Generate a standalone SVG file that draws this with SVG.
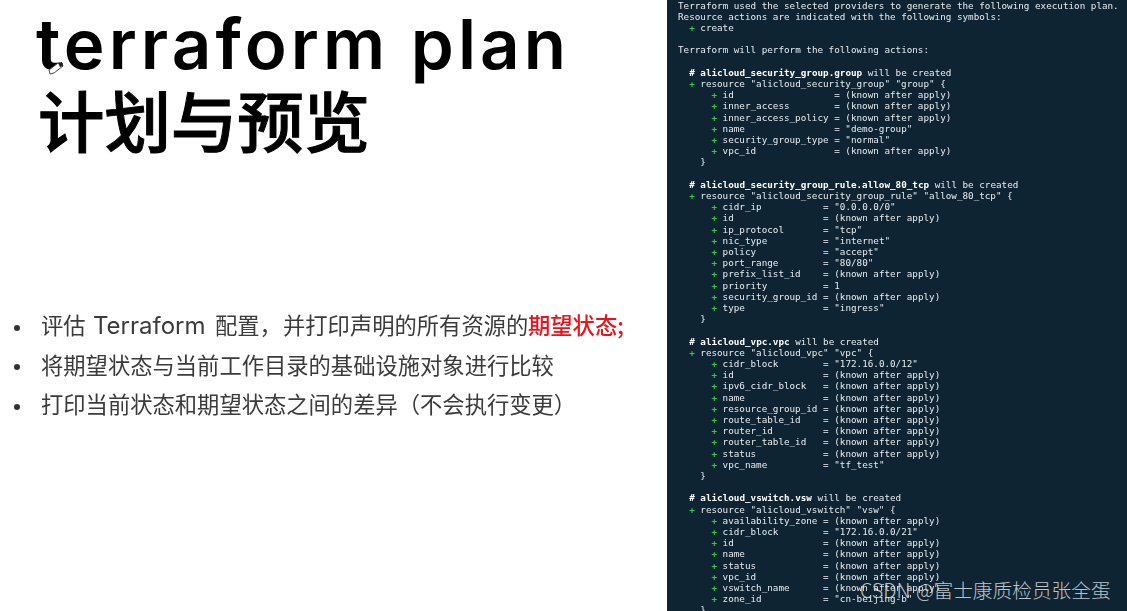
<svg xmlns="http://www.w3.org/2000/svg" width="1127" height="611" viewBox="0 0 1127 611">
<defs>
<filter id="soft" x="-2%" y="-2%" width="104%" height="104%"><feGaussianBlur stdDeviation="0.35"/></filter>
</defs>
<style>
.title{font-family:Inter,"Noto Sans CJK SC",sans-serif;font-size:69px;font-weight:600;fill:#050505}
.cjk{font-family:"Noto Sans CJK SC",sans-serif;font-size:66.4px;font-weight:500;stroke:#050505;stroke-width:1}
.bullet{font-family:"Noto Sans CJK SC",sans-serif;font-size:22.3px;fill:#3a3a3a}
.latin{font-family:Inter,"Noto Sans CJK SC",sans-serif;font-size:24px}
.red{fill:#e3131b;font-weight:500}
.dot{fill:#333}
.term{font-family:"DejaVu Sans Mono",monospace;font-size:9.27px;fill:#e6ebee}
.term .b{font-weight:700;fill:#fff}
.term .g{fill:#39c44a;font-weight:700}
.wm{font-family:"Noto Sans CJK SC",sans-serif;font-size:19.7px;font-weight:300;fill:#e4e8ea;fill-opacity:.82}
</style>
<rect width="1127" height="611" fill="#fff"/>
<g id="terminal-panel"><rect x="667" y="0" width="460" height="611" fill="#0e2433"/></g>
<g id="slide-title" filter="url(#soft)">
<text class="title" x="36" y="69" textLength="530" lengthAdjust="spacing">terraform plan</text>
<text class="title cjk" x="38" y="147">计划与预览</text>
</g>
<g id="pen-cursor">
<path d="M50 74 L49 70 L58 63 L62 63 L63 66 L54 73 Z" fill="#fff" stroke="#444" stroke-width="1"/>
<path d="M58 63 L62 62 L63 66 L60 67 Z" fill="#222"/>
</g>
<g id="bullets" filter="url(#soft)">
<circle class="dot" cx="17" cy="328" r="3"/>
<text class="bullet" y="334"><tspan x="41">评估</tspan><tspan class="latin" x="93">Terraform</tspan><tspan x="215">配置，</tspan><tspan x="283">并打印声明的所有资源的</tspan><tspan class="red" x="528">期望状态;</tspan></text>
<circle class="dot" cx="17" cy="367" r="3"/>
<text class="bullet" x="41" y="374">将期望状态与当前工作目录的基础设施对象进行比较</text>
<circle class="dot" cx="17" cy="407" r="3"/>
<text class="bullet" x="41" y="413">打印当前状态和期望状态之间的差异（不会执行变更）</text>
</g>
<g id="terminal-output" class="term" filter="url(#soft)">
<text x="678" y="8.5">Terraform used the selected providers to generate the following execution plan.</text>
<text x="678" y="19.7">Resource actions are indicated with the following symbols:</text>
<text y="30.9"><tspan class="g" x="689.2">+</tspan><tspan x="700.3">create</tspan></text>
<text x="678" y="53.3">Terraform will perform the following actions:</text>
<text y="75.7"><tspan class="b" x="689.2"># alicloud_security_group.group</tspan> will be created</text>
<text y="86.9"><tspan class="g" x="689.2">+</tspan><tspan x="700.3">resource "alicloud_security_group" "group" {</tspan></text>
<text y="98.1"><tspan class="g" x="711.5">+</tspan><tspan x="722.6">id</tspan><tspan x="834.2">= (known after apply)</tspan></text>
<text y="109.3"><tspan class="g" x="711.5">+</tspan><tspan x="722.6">inner_access</tspan><tspan x="834.2">= (known after apply)</tspan></text>
<text y="120.5"><tspan class="g" x="711.5">+</tspan><tspan x="722.6">inner_access_policy</tspan><tspan x="834.2">= (known after apply)</tspan></text>
<text y="131.7"><tspan class="g" x="711.5">+</tspan><tspan x="722.6">name</tspan><tspan x="834.2">= "demo-group"</tspan></text>
<text y="142.9"><tspan class="g" x="711.5">+</tspan><tspan x="722.6">security_group_type</tspan><tspan x="834.2">= "normal"</tspan></text>
<text y="154.1"><tspan class="g" x="711.5">+</tspan><tspan x="722.6">vpc_id</tspan><tspan x="834.2">= (known after apply)</tspan></text>
<text x="700.3" y="165.3">}</text>
<text y="187.7"><tspan class="b" x="689.2"># alicloud_security_group_rule.allow_80_tcp</tspan> will be created</text>
<text y="198.9"><tspan class="g" x="689.2">+</tspan><tspan x="700.3">resource "alicloud_security_group_rule" "allow_80_tcp" {</tspan></text>
<text y="210.1"><tspan class="g" x="711.5">+</tspan><tspan x="722.6">cidr_ip</tspan><tspan x="823.1">= "0.0.0.0/0"</tspan></text>
<text y="221.3"><tspan class="g" x="711.5">+</tspan><tspan x="722.6">id</tspan><tspan x="823.1">= (known after apply)</tspan></text>
<text y="232.5"><tspan class="g" x="711.5">+</tspan><tspan x="722.6">ip_protocol</tspan><tspan x="823.1">= "tcp"</tspan></text>
<text y="243.7"><tspan class="g" x="711.5">+</tspan><tspan x="722.6">nic_type</tspan><tspan x="823.1">= "internet"</tspan></text>
<text y="254.9"><tspan class="g" x="711.5">+</tspan><tspan x="722.6">policy</tspan><tspan x="823.1">= "accept"</tspan></text>
<text y="266.1"><tspan class="g" x="711.5">+</tspan><tspan x="722.6">port_range</tspan><tspan x="823.1">= "80/80"</tspan></text>
<text y="277.3"><tspan class="g" x="711.5">+</tspan><tspan x="722.6">prefix_list_id</tspan><tspan x="823.1">= (known after apply)</tspan></text>
<text y="288.5"><tspan class="g" x="711.5">+</tspan><tspan x="722.6">priority</tspan><tspan x="823.1">= 1</tspan></text>
<text y="299.7"><tspan class="g" x="711.5">+</tspan><tspan x="722.6">security_group_id</tspan><tspan x="823.1">= (known after apply)</tspan></text>
<text y="310.9"><tspan class="g" x="711.5">+</tspan><tspan x="722.6">type</tspan><tspan x="823.1">= "ingress"</tspan></text>
<text x="700.3" y="322.1">}</text>
<text y="344.5"><tspan class="b" x="689.2"># alicloud_vpc.vpc</tspan> will be created</text>
<text y="355.7"><tspan class="g" x="689.2">+</tspan><tspan x="700.3">resource "alicloud_vpc" "vpc" {</tspan></text>
<text y="366.9"><tspan class="g" x="711.5">+</tspan><tspan x="722.6">cidr_block</tspan><tspan x="823.1">= "172.16.0.0/12"</tspan></text>
<text y="378.1"><tspan class="g" x="711.5">+</tspan><tspan x="722.6">id</tspan><tspan x="823.1">= (known after apply)</tspan></text>
<text y="389.3"><tspan class="g" x="711.5">+</tspan><tspan x="722.6">ipv6_cidr_block</tspan><tspan x="823.1">= (known after apply)</tspan></text>
<text y="400.5"><tspan class="g" x="711.5">+</tspan><tspan x="722.6">name</tspan><tspan x="823.1">= (known after apply)</tspan></text>
<text y="411.7"><tspan class="g" x="711.5">+</tspan><tspan x="722.6">resource_group_id</tspan><tspan x="823.1">= (known after apply)</tspan></text>
<text y="422.9"><tspan class="g" x="711.5">+</tspan><tspan x="722.6">route_table_id</tspan><tspan x="823.1">= (known after apply)</tspan></text>
<text y="434.1"><tspan class="g" x="711.5">+</tspan><tspan x="722.6">router_id</tspan><tspan x="823.1">= (known after apply)</tspan></text>
<text y="445.3"><tspan class="g" x="711.5">+</tspan><tspan x="722.6">router_table_id</tspan><tspan x="823.1">= (known after apply)</tspan></text>
<text y="456.5"><tspan class="g" x="711.5">+</tspan><tspan x="722.6">status</tspan><tspan x="823.1">= (known after apply)</tspan></text>
<text y="467.7"><tspan class="g" x="711.5">+</tspan><tspan x="722.6">vpc_name</tspan><tspan x="823.1">= "tf_test"</tspan></text>
<text x="700.3" y="478.9">}</text>
<text y="501.3"><tspan class="b" x="689.2"># alicloud_vswitch.vsw</tspan> will be created</text>
<text y="512.5"><tspan class="g" x="689.2">+</tspan><tspan x="700.3">resource "alicloud_vswitch" "vsw" {</tspan></text>
<text y="523.7"><tspan class="g" x="711.5">+</tspan><tspan x="722.6">availability_zone</tspan><tspan x="823.1">= (known after apply)</tspan></text>
<text y="534.9"><tspan class="g" x="711.5">+</tspan><tspan x="722.6">cidr_block</tspan><tspan x="823.1">= "172.16.0.0/21"</tspan></text>
<text y="546.1"><tspan class="g" x="711.5">+</tspan><tspan x="722.6">id</tspan><tspan x="823.1">= (known after apply)</tspan></text>
<text y="557.3"><tspan class="g" x="711.5">+</tspan><tspan x="722.6">name</tspan><tspan x="823.1">= (known after apply)</tspan></text>
<text y="568.5"><tspan class="g" x="711.5">+</tspan><tspan x="722.6">status</tspan><tspan x="823.1">= (known after apply)</tspan></text>
<text y="579.7"><tspan class="g" x="711.5">+</tspan><tspan x="722.6">vpc_id</tspan><tspan x="823.1">= (known after apply)</tspan></text>
<text y="590.9"><tspan class="g" x="711.5">+</tspan><tspan x="722.6">vswitch_name</tspan><tspan x="823.1">= (known after apply)</tspan></text>
<text y="602.1"><tspan class="g" x="711.5">+</tspan><tspan x="722.6">zone_id</tspan><tspan x="823.1">= "cn-beijing-b"</tspan></text>
<text x="700.3" y="613.3">}</text>
</g>
<g id="watermark"><text class="wm" y="598"><tspan x="860">CSDN</tspan><tspan x="916">@</tspan><tspan x="933.5">富士康质检员张全蛋</tspan></text></g>
</svg>
